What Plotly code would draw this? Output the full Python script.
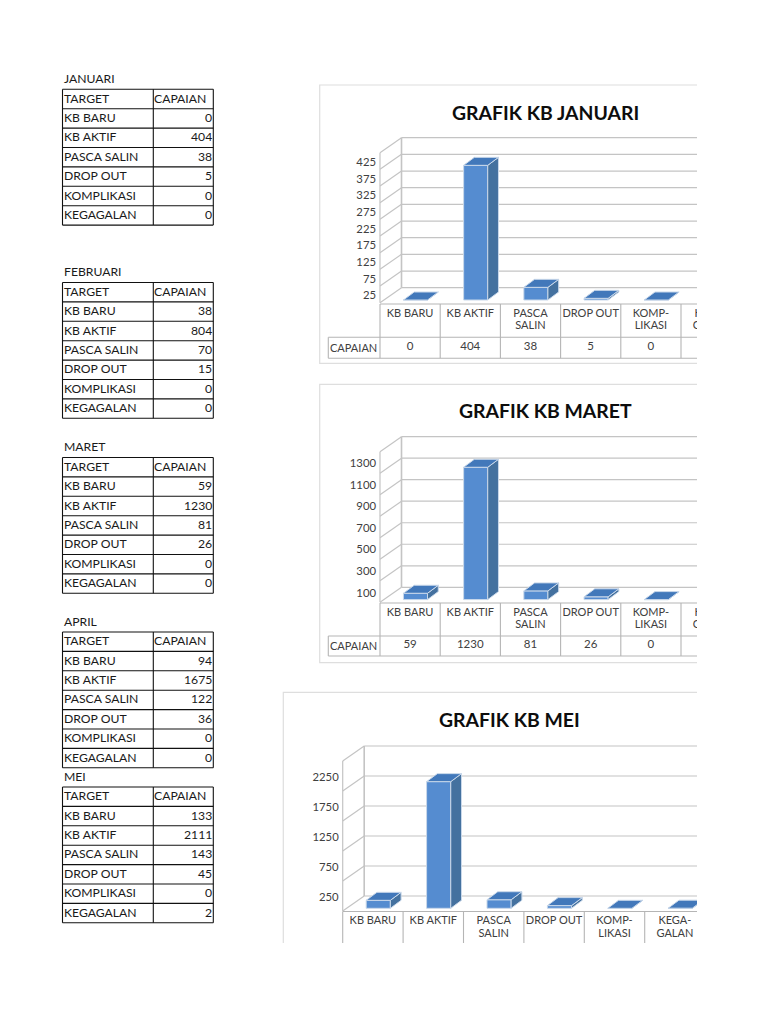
import plotly.graph_objects as go

W, H = 768, 1024
FONT = "Lato"

# ---- data ----
row_labels = ["KB BARU", "KB AKTIF", "PASCA SALIN", "DROP OUT", "KOMPLIKASI", "KEGAGALAN"]
cat_line1 = ["KB BARU", "KB AKTIF", "PASCA", "DROP OUT", "KOMP-", "KEGA-"]
cat_line2 = ["", "", "SALIN", "", "LIKASI", "GALAN"]
januari = [0, 404, 38, 5, 0, 0]
februari = [38, 804, 70, 15, 0, 0]
maret = [59, 1230, 81, 26, 0, 0]
april = [94, 1675, 122, 36, 0, 0]
mei = [133, 2111, 143, 45, 0, 2]
jan_ticks = [25, 75, 125, 175, 225, 275, 325, 375, 425]
mar_ticks = [100, 300, 500, 700, 900, 1100, 1300]
mei_ticks = [250, 750, 1250, 1750, 2250]

# ---- layout helpers ----
def px(x): return x / W
def py(y): return 1 - y / H

shapes, annotations, traces = [], [], []

def line(x0, y0, x1, y1, color, width=1.0, layer="below"):
    shapes.append(dict(type="line", xref="paper", yref="paper", x0=px(x0), y0=py(y0), x1=px(x1), y1=py(y1),
                       line=dict(color=color, width=width), layer=layer))

def text(x, y, s, size=12.2, color="#1a1a1a", anchor="left", bold=False):
    annotations.append(dict(xref="paper", yref="paper", x=px(x), y=py(y), text=f"<b>{s}</b>" if bold else s,
                            showarrow=False, xanchor=anchor, yanchor="middle",
                            font=dict(family=FONT, size=size, color=color), borderpad=0, borderwidth=0))

# ---- spreadsheet tables ----
def table(month, top, values):
    xl, xm, xr, rh = 62.5, 153.3, 213.3, 19.4
    tx = 63.8
    text(tx, top - 11, month)
    for i in range(8):
        line(xl, top + i * rh, xr, top + i * rh, "#111111", 1.1)
    for x in (xl, xm, xr):
        line(x, top, x, top + 7 * rh, "#111111", 1.1)
    text(tx, top + rh / 2 - 1, "TARGET")
    text(154.3, top + rh / 2 - 1, "CAPAIAN")
    for i, (lab, v) in enumerate(zip(row_labels, values)):
        yc = top + (i + 1.5) * rh - 1
        text(tx, yc, lab)
        text(211.8, yc, str(v), anchor="right")

table("JANUARI", 89.3, januari)
table("FEBRUARI", 282.5, februari)
table("MARET", 457.5, maret)
table("APRIL", 632, april)
table("MEI", 787, mei)

# ---- 3-D column charts ----
GRID = "#c4c4c4"
TBL = "#b5b5b5"
FRAME = "#dedede"
LABEL = "#404040"
FRONT, TOP, SIDE, EDGE = "#558cd0", "#4278ba", "#44719f", "#c9d8ea"
layout_axes = {}

def chart(n, title, title_xy, frame, x0, floor_y, step, px_per, vmax, gridstep, ticks, values,
          row_y, value_row_visible=True):
    fx0, fy0, fy1 = frame
    # white chart area with frame
    shapes.append(dict(type="rect", xref="paper", yref="paper", x0=px(fx0), x1=px(760), y0=py(fy0), y1=py(fy1),
                       line=dict(color=FRAME, width=1.2), fillcolor="white", layer="below"))
    text(title_xy[0], title_xy[1], title, size=19.4, color="#0d0d0d", anchor="center", bold=True)

    ddx, ddy = 21.5, 15.0
    xend = x0 + 6 * step
    top_front = floor_y - vmax * px_per
    # walls and gridlines
    v = 0
    while v <= vmax:
        y = floor_y - v * px_per
        line(x0, y, x0 + ddx, y - ddy, GRID, 1.2)
        line(x0 + ddx, y - ddy, xend + ddx, y - ddy, GRID, 1.2)
        v += gridstep
    line(x0, floor_y, x0, top_front, GRID, 1.2)
    line(x0 + ddx, floor_y - ddy, x0 + ddx, top_front - ddy, GRID, 1.6)
    # category table
    ytop, ymid, ybot = row_y
    line(x0, ytop, xend, ytop, TBL, 1.1)
    for i in range(7):
        line(x0 + i * step, ytop, x0 + i * step, ybot, TBL, 1.1)
    if value_row_visible:
        line(328.3, ymid, xend, ymid, TBL, 1.1)
        line(328.3, ybot, xend, ybot, TBL, 1.1)
        line(328.3, ymid, 328.3, ybot, TBL, 1.1)
        text(353.8, (ymid + ybot) / 2 - 0.7, "CAPAIAN", size=11, color=LABEL, anchor="center")

    # axes: value axis spans from the lowest table row to the top of the wall
    bottom_px = ybot + 4
    top_px = top_front - ddy
    suffix = "" if n == 1 else str(n)
    label_nudge = 1 / px_per  # labels sit one pixel under their value level
    layout_axes[f"xaxis{suffix}"] = dict(domain=[px(x0), px(xend)], range=[0, 6], anchor=f"y{suffix}",
                                         showgrid=False, zeroline=False, showline=False, showticklabels=False, ticks="")
    layout_axes[f"yaxis{suffix}"] = dict(domain=[py(bottom_px), py(top_px)],
                                         range=[(floor_y - bottom_px) / px_per, (floor_y - top_px) / px_per],
                                         anchor=f"x{suffix}", showgrid=False, zeroline=False, showline=False,
                                         tickmode="array", tickvals=[t - label_nudge for t in ticks],
                                         ticktext=[str(t) for t in ticks],
                                         ticks="", ticklabelstandoff=3,
                                         tickfont=dict(family=FONT, size=11.3, color=LABEL))
    xa, ya = f"x{suffix}", f"y{suffix}"

    # bars: front face a quarter of the way into the floor, slightly lower in the picture
    xshift = 0.25 * ddx / step
    base = 2.7 / px_per
    bar_w = 0.4
    ox = 0.5 * ddx / step
    oy = 8.0 / px_per
    centers = [i + 0.5 + xshift for i in range(6)]
    traces.append(go.Bar(x=centers, y=values, base=[base] * 6, width=bar_w, xaxis=xa, yaxis=ya,
                         marker=dict(color=FRONT, line=dict(color=EDGE, width=1)), hoverinfo="skip"))
    sx, sy, tx, ty = [], [], [], []
    for c, val in zip(centers, values):
        l, r, b, t = c - bar_w / 2, c + bar_w / 2, base, base + val
        sx += [r, r + ox, r + ox, r, r, None]
        sy += [b, b + oy, t + oy, t, b, None]
        tx += [l, r, r + ox, l + ox, l, None]
        ty += [t, t, t + oy, t + oy, t, None]
    for xs, ys, col in ((sx, sy, SIDE), (tx, ty, TOP)):
        traces.append(go.Scatter(x=xs, y=ys, mode="lines", fill="toself", fillcolor=col, xaxis=xa, yaxis=ya,
                                 line=dict(color=EDGE, width=1), hoverinfo="skip", cliponaxis=False))
    # category labels and value row
    mids = [i + 0.5 for i in range(6)]
    y1 = (floor_y - (ytop + 10)) / px_per
    y2 = (floor_y - (ytop + 22.5)) / px_per
    yv = (floor_y - ((ymid + ybot) / 2 - 0.7)) / px_per
    tf = dict(family=FONT, size=11, color=LABEL)
    traces.append(go.Scatter(x=mids, y=[y1] * 6, mode="text", text=cat_line1, textposition="middle center",
                             textfont=tf, xaxis=xa, yaxis=ya, hoverinfo="skip", cliponaxis=False))
    traces.append(go.Scatter(x=mids, y=[y2] * 6, mode="text", text=cat_line2, textposition="middle center",
                             textfont=tf, xaxis=xa, yaxis=ya, hoverinfo="skip", cliponaxis=False))
    if value_row_visible:
        traces.append(go.Scatter(x=mids[:5], y=[yv] * 5, mode="text", text=[str(v) for v in values[:5]],
                                 textposition="middle center", textfont=dict(family=FONT, size=11.5, color=LABEL),
                                 xaxis=xa, yaxis=ya, hoverinfo="skip", cliponaxis=False))

chart(1, "GRAFIK KB JANUARI", (545.7, 112.7), (319.7, 85, 363.3), 380, 302.7, 60.2, 1 / 3, 450, 50,
      jan_ticks, januari, (304, 337.3, 358.3))
chart(2, "GRAFIK KB MARET", (545.7, 410.7), (319.7, 384.3, 662.7), 380, 602.3, 60.2, 0.1076, 1400, 200,
      mar_ticks, maret, (603, 636, 656))
chart(3, "GRAFIK KB MEI", (509.3, 719.3), (283.3, 692.3, 1000), 342.7, 911, 60.4, 0.06, 2500, 500,
      mei_ticks, mei, (911.5, 945, 966), value_row_visible=False)

# white page beyond the cropped edge
for x0, x1, y0, y1 in ((697, W, 0, H), (0, W, 943, H)):
    shapes.append(dict(type="rect", xref="paper", yref="paper", x0=px(x0), x1=px(x1), y0=py(y0), y1=py(y1),
                       line=dict(width=0), fillcolor="white", layer="above"))

fig = go.Figure(traces)
fig.update_layout(width=W, height=H, margin=dict(l=0, r=0, t=0, b=0), paper_bgcolor="white", plot_bgcolor="rgba(0,0,0,0)",
                  showlegend=False, barmode="overlay", shapes=shapes, annotations=annotations,
                  font=dict(family=FONT), **layout_axes)
fig.write_html("out.html", config=dict(displayModeBar=False),
               post_script="document.body.style.margin='0';document.documentElement.style.overflow='hidden';")
